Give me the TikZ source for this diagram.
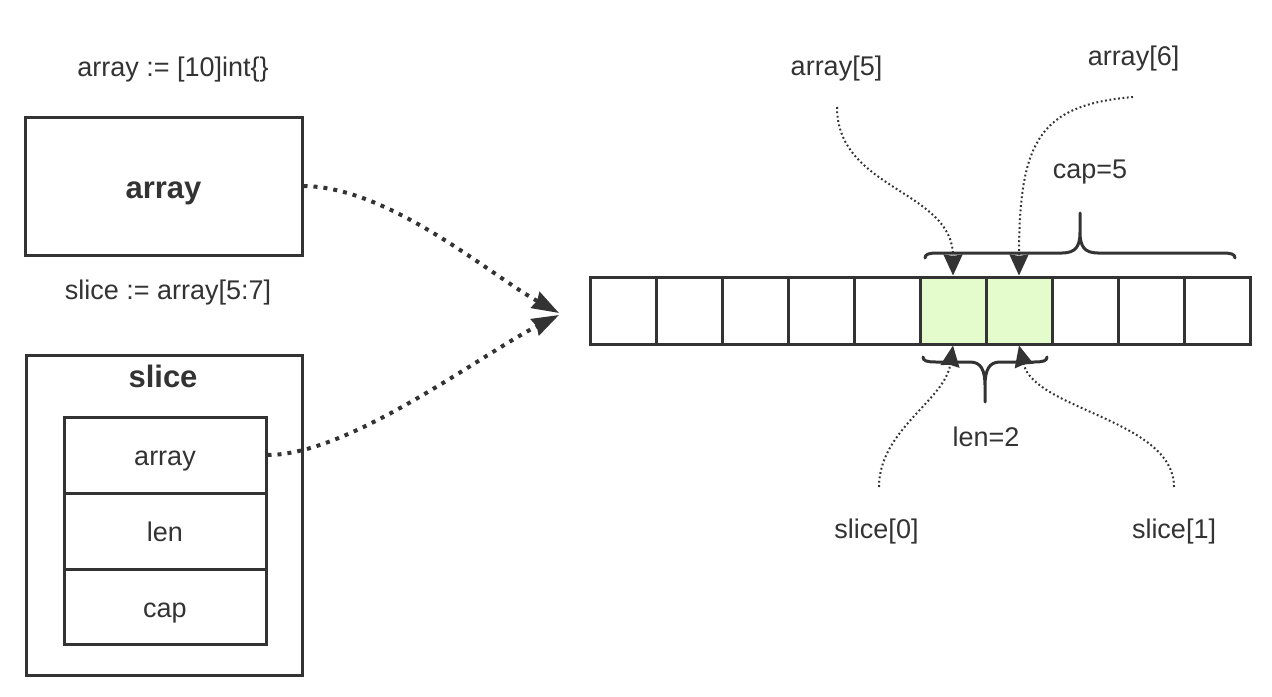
\documentclass[tikz,border=0pt]{standalone}
\usepackage{fontspec}
\setmainfont{Liberation Sans}
\usetikzlibrary{arrows.meta}
\definecolor{ink}{HTML}{333333}
\definecolor{cellgreen}{RGB}{228,252,204}
\begin{document}
\begin{tikzpicture}[x=0.5pt,y=-0.5pt,
  lbl/.style={font=\fontsize{13.5}{16}\selectfont, text=ink, inner sep=0pt, anchor=base},
  boldlbl/.style={font=\fontsize{15.5}{18}\selectfont\bfseries, text=ink, inner sep=0pt, anchor=base},
  frame/.style={draw=ink, line width=1.5pt, inner sep=0pt},
  cell/.style={frame, minimum width=33pt, minimum height=33.5pt},
  hcell/.style={cell, fill=cellgreen},
  field/.style={frame, minimum width=101pt, minimum height=38pt, font=\fontsize{13.5}{16}\selectfont, text=ink, text height=10.5pt, text depth=0pt},
  bigarrow/.style={draw=ink, line width=2pt, dash pattern=on 2pt off 3pt, -{Stealth[length=13.5pt,width=9pt,inset=1pt]}},
  ptr/.style={draw=ink, line width=1pt, dash pattern=on 0.9pt off 1.3pt, -{Stealth[length=10.5pt,width=9.5pt,inset=0.7pt]}},
  bracestyle/.style={draw=ink, line width=1.5pt, line cap=round, line join=round},
]
\fill[white] (0,0) rectangle (1272,696);
\useasboundingbox (0,0) rectangle (1272,696);

% left side
\node[lbl] (decl1) at (173,76) {array := [10]int\{\}};
\node[frame, minimum width=138.5pt, minimum height=69pt, font=\fontsize{15.5}{18}\selectfont\bfseries, text=ink, text height=12pt, text depth=0pt] (arr) at (163.5,186) {array};
\node[lbl] (decl2) at (168,299) {slice := array[5:7]};
\node[frame, minimum width=138pt, minimum height=160pt] (sl) at (164,515) {};
\node[boldlbl] (sltitle) at (163,387) {slice};
\node[field] (fa) at (165,455) {array};
\node[field] (fl) at (165,531) {len};
\node[field, minimum height=37.5pt] (fc) at (165,606.5) {cap};

% array cells
\foreach \i in {0,...,9} {
  \pgfmathsetmacro{\cx}{623+66*\i}
  \ifnum\i=5 \node[hcell] (c\i) at (\cx,310.5) {};
  \else\ifnum\i=6 \node[hcell] (c\i) at (\cx,310.5) {};
  \else \node[cell] (c\i) at (\cx,310.5) {};
  \fi\fi
}

% braces
\draw[bracestyle] (925,258) .. controls (925,254) and (929,253) .. (938,253) -- (1062,253)
  .. controls (1076,253) and (1080,246) .. (1080,232) -- (1080,213) -- (1080,232)
  .. controls (1080,246) and (1084,253) .. (1098,253) -- (1222,253)
  .. controls (1231,253) and (1235,254) .. (1235,258);
\draw[bracestyle] (923,357) .. controls (923,361) and (927,362) .. (936,362) -- (970,362)
  .. controls (981,362) and (985,370) .. (985,386) -- (985,402) -- (985,386)
  .. controls (985,370) and (989,362) .. (1000,362) -- (1034,362)
  .. controls (1043,362) and (1047,361) .. (1047,357);

% labels on the right
\node[lbl] (a5) at (836.5,75) {array[5]};
\node[lbl] (a6) at (1133.5,65) {array[6]};
\node[lbl] (capl) at (1090,178) {cap=5};
\node[lbl] (lenl) at (986,446) {len=2};
\node[lbl] (s0) at (876.5,538) {slice[0]};
\node[lbl] (s1) at (1174,538) {slice[1]};

\coordinate (p5) at (837,107);
\coordinate (p6) at (1133,97);
\coordinate (q0) at (879,487);
\coordinate (q1) at (1174,487);
\coordinate (tgt) at (559,313);
\coordinate (tgt2) at (559,315);

% pointers
\draw[ptr] (p5) .. controls (837,190) and (953,190) .. (c5.north);
\draw[ptr] (p6) .. controls (1040,105) and (1019,140) .. (c6.north);
\draw[ptr] (q0) .. controls (879,430) and (945,400) .. (c5.south);
\draw[ptr] (q1) .. controls (1174,420) and (1035,410) .. (c6.south);

% big arrows
\draw[bigarrow] (arr.east) .. controls (390,187) and (490,275) .. (tgt);
\draw[bigarrow] (fa.east) .. controls (350,455) and (480,355) .. (tgt2);
\end{tikzpicture}
\end{document}
